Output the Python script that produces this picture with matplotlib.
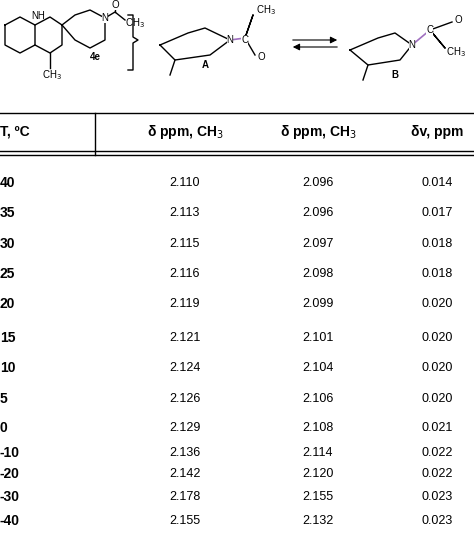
import matplotlib
matplotlib.use("Agg")
import matplotlib.pyplot as plt
plt.rcParams['font.family'] = ['Liberation Sans', 'DejaVu Sans']

temps = ["40", "35", "30", "25", "20", "15", "10", "5", "0", "-10", "-20", "-30", "-40"]
ch3_a = ["2.110", "2.113", "2.115", "2.116", "2.119", "2.121", "2.124", "2.126", "2.129", "2.136", "2.142", "2.178", "2.155"]
ch3_b = ["2.096", "2.096", "2.097", "2.098", "2.099", "2.101", "2.104", "2.106", "2.108", "2.114", "2.120", "2.155", "2.132"]
dv = ["0.014", "0.017", "0.018", "0.018", "0.020", "0.020", "0.020", "0.020", "0.021", "0.022", "0.022", "0.023", "0.023"]
headers = ["T, ºC", "δ ppm, CH$_3$", "δ ppm, CH$_3$", "δv, ppm"]
row_y = [183, 213, 244, 274, 304, 338, 368, 399, 428, 453, 474, 497, 521]

fig = plt.figure(figsize=(4.74, 5.35), dpi=100)
ax = fig.add_axes([0, 0, 1, 1])
ax.set_xlim(0, 474); ax.set_ylim(535, 0); ax.axis("off")

k = dict(color="black", lw=1)
ax.plot([5, 20, 35, 35, 20, 5, 5], [25, 17, 25, 45, 53, 45, 25], **k)
ax.plot([35, 50, 62, 62, 50, 35], [25, 17, 25, 45, 53, 45], **k)
ax.plot([62, 75, 90, 105, 105, 90, 75, 62], [25, 15, 10, 18, 40, 48, 40, 25], **k)
ax.plot([50, 50], [53, 68], **k)
ax.plot([105, 115, 125], [18, 12, 20], **k)
ax.plot([115, 115], [12, 0], **k)
ax.text(38, 16, "NH", fontsize=7, ha="center", va="center")
ax.text(105, 18, "N", fontsize=7, ha="center", va="center", bbox=dict(fc="white", ec="none", pad=0))
ax.text(115, 5, "O", fontsize=7, ha="center", va="center", bbox=dict(fc="white", ec="none", pad=0))
ax.text(125, 23, "CH$_3$", fontsize=7, ha="left", va="center")
ax.text(42, 75, "CH$_3$", fontsize=7, ha="left", va="center")
ax.text(95, 60, "4e", fontsize=7, ha="center", fontweight="bold")
ax.plot([128, 133, 133, 138, 133, 133, 128], [15, 15, 37, 40, 43, 70, 70], **k)
ax.plot([160, 175, 210, 230, 205, 188, 160], [45, 60, 55, 40, 28, 33, 45], **k)
ax.plot([175, 170], [60, 75], **k)
ax.plot([230, 245], [40, 38], color="#a070c0", lw=1.2)
ax.plot([245, 253, 245, 255], [38, 15, 38, 55], **k)
ax.text(230, 40, "N", fontsize=7, ha="center", va="center", bbox=dict(fc="white", ec="none", pad=0))
ax.text(245, 40, "C", fontsize=7, ha="center", va="center", bbox=dict(fc="white", ec="none", pad=0))
ax.text(256, 10, "CH$_3$", fontsize=7, ha="left", va="center")
ax.text(258, 57, "O", fontsize=7, ha="left", va="center")
ax.text(205, 68, "A", fontsize=7, ha="center", fontweight="bold")
ax.annotate("", xy=(340, 40), xytext=(290, 40), arrowprops=dict(arrowstyle="-|>", lw=0.8, color="black"))
ax.annotate("", xy=(290, 47), xytext=(340, 47), arrowprops=dict(arrowstyle="-|>", lw=0.8, color="black"))
ax.plot([350, 368, 400, 412, 395, 378, 350], [50, 65, 60, 45, 33, 38, 50], **k)
ax.plot([368, 363], [65, 80], **k)
ax.plot([412, 430], [45, 30], color="#a070c0", lw=1.2)
ax.plot([430, 445, 430, 452], [30, 48, 30, 22], **k)
ax.text(412, 45, "N", fontsize=7, ha="center", va="center", bbox=dict(fc="white", ec="none", pad=0))
ax.text(430, 30, "C", fontsize=7, ha="center", va="center", bbox=dict(fc="white", ec="none", pad=0))
ax.text(446, 52, "CH$_3$", fontsize=7, ha="left", va="center")
ax.text(455, 20, "O", fontsize=7, ha="left", va="center")
ax.text(395, 78, "B", fontsize=7, ha="center", fontweight="bold")

ax.plot([0, 474], [113, 113], color="black", lw=1)
ax.plot([0, 474], [151, 151], color="black", lw=1)
ax.plot([0, 474], [155, 155], color="black", lw=1)
ax.plot([95, 95], [113, 155], color="black", lw=1)
hx = [0, 185, 318, 437]
for i, h in enumerate(headers):
    ax.text(hx[i], 132, h, fontsize=10, fontweight="bold", ha="left" if i == 0 else "center", va="center")
for y, t, a, b, d in zip(row_y, temps, ch3_a, ch3_b, dv):
    ax.text(0, y, t, fontsize=10, fontweight="bold", ha="left", va="center")
    ax.text(185, y, a, fontsize=9, ha="center", va="center")
    ax.text(318, y, b, fontsize=9, ha="center", va="center")
    ax.text(437, y, d, fontsize=9, ha="center", va="center")

fig.savefig("out.png", dpi=100)
